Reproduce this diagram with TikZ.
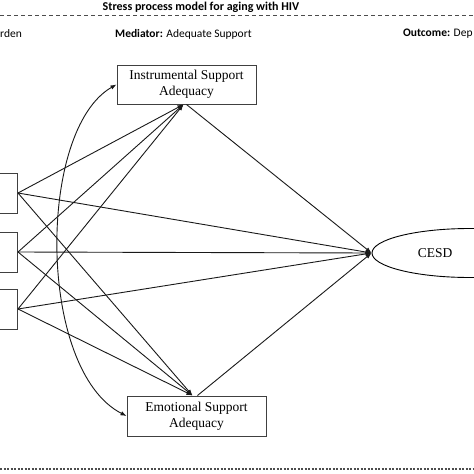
\documentclass[tikz,border=0pt]{standalone}
\usepackage{fontspec}
\setmainfont{Liberation Serif}
\newfontfamily\calibri{Carlito}
\usetikzlibrary{shapes.geometric,arrows.meta}

\begin{document}
\begin{tikzpicture}[x=1pt,y=-1pt,
  box/.style={draw=black!75,line width=1pt,align=center,inner sep=0pt,
              font=\fontsize{13.5}{16}\selectfont},
  path/.style={-{Latex[length=6pt,width=4.5pt]},line width=0.9pt,black!90},
  head/.style={inner sep=0pt,font=\calibri\fontsize{11.5}{13}\selectfont}]
  \useasboundingbox (0,0) rectangle (474,474);
  % title and header row
  \node[head,font=\calibri\bfseries\fontsize{12}{14}\selectfont] (title) at (201,7) {Stress process model for aging with HIV};
  \draw[black!70,line width=0.7pt,dash pattern=on 4pt off 3pt] (0,15) -- (474,15);
  \node[head,anchor=west] (stressor) at (0,34) {rden};
  \node[head,anchor=west] (mediator) at (115,34) {\textbf{Mediator:} Adequate Support};
  \node[head,anchor=west] (outcome) at (403,34) {\textbf{Outcome:} Dep};
  % stressors (cut at the left edge)
  \foreach \y/\n in {193/sa,252/sb,309/sc}{%
    \node[box,minimum width=40pt,minimum height=40pt,anchor=east] (\n) at (18,\y) {};}
  % mediators and outcome
  \node[box,minimum width=139pt,minimum height=39pt] (inst) at (186.5,84.5) {Instrumental Support\\Adequacy};
  \node[box,minimum width=139pt,minimum height=40pt] (emo) at (196.5,416) {Emotional Support\\Adequacy};
  \node[draw,ellipse,line width=0.9pt,minimum width=196pt,minimum height=49pt] (cesd) at (470,253) {};
  \node[font=\fontsize{13.5}{16}\selectfont] (cesdtxt) at (435,253) {CESD};
  % paths
  \foreach \n in {sa,sb,sc}{%
    \draw[path] (\n.east) -- ([xshift=-3pt]inst.south);
    \draw[path] (\n.east) -- ([xshift=-4pt]emo.north);
    \draw[path] (\n.east) -- (cesd.west);}
  \draw[path] (inst.south) -- (cesd.west);
  \draw[path] ([xshift=1pt]emo.north) -- (cesd.west);
  % covariance
  \draw[{Latex[length=6pt,width=4.5pt]}-{Latex[length=6pt,width=4.5pt]},line width=0.9pt,black!90]
    (inst.west) .. controls (37,130) and (37,370) .. (emo.west);
  \draw[black!70,line width=2pt,dash pattern=on 2pt off 1.5pt] (0,469) -- (474,469);
\end{tikzpicture}
\end{document}
